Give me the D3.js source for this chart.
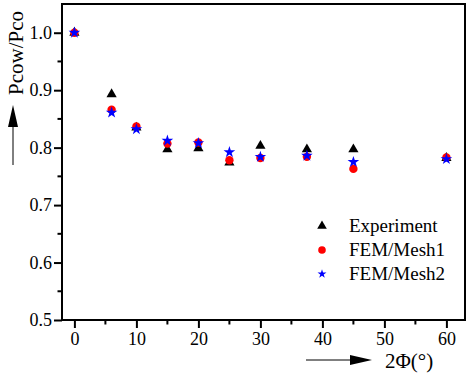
<!DOCTYPE html>
<html><head><meta charset="utf-8">
<script src="https://cdn.jsdelivr.net/npm/d3@7"></script>
<style>body{margin:0;background:#fff}svg{display:block}text{font-family:"Liberation Serif","Times New Roman",serif;fill:#000}</style>
</head><body>
<script>
const xValues = [0, 6, 10, 15, 20, 25, 30, 37.5, 45, 60];
const experiment = [1.0, 0.893, 0.835, 0.797, 0.799, 0.774, 0.803, 0.797, 0.797, 0.782];
const mesh1 = [1.0, 0.866, 0.837, 0.807, 0.809, 0.778, 0.782, 0.784, 0.763, 0.783];
const mesh2 = [1.0, 0.861, 0.832, 0.812, 0.808, 0.792, 0.784, 0.786, 0.775, 0.780];
const xTicks = [0, 10, 20, 30, 40, 50, 60];
const yTicks = [0.5, 0.6, 0.7, 0.8, 0.9, 1.0];
const seriesNames = ["Experiment", "FEM/Mesh1", "FEM/Mesh2"];

const W = 474, H = 374;
const L = 62, R = 465, T = 4, B = 320;
const svg = d3.select("body").append("svg").attr("width", W).attr("height", H);
const x = d3.scaleLinear().domain([-2, 63]).range([L, R]);
const y = d3.scaleLinear().domain([0.5, 1.05]).range([B, T]);

// minor ticks
const xMinor = d3.range(5, 61, 10);
const yMinor = d3.range(0.55, 1.05, 0.1);
svg.append("g").selectAll("line").data(xMinor).join("line")
  .attr("x1", d => x(d)).attr("x2", d => x(d)).attr("y1", B).attr("y2", B + 4.5)
  .attr("stroke", "#000").attr("stroke-width", 2);
svg.append("g").selectAll("line").data(yMinor).join("line")
  .attr("y1", d => y(d)).attr("y2", d => y(d)).attr("x1", L).attr("x2", L - 4.5)
  .attr("stroke", "#000").attr("stroke-width", 2);

const xAxis = svg.append("g").attr("transform", `translate(0,${B})`)
  .call(d3.axisBottom(x).tickValues(xTicks).tickSize(8).tickPadding(4).tickFormat(d3.format("d")));
const yAxis = svg.append("g").attr("transform", `translate(${L},0)`)
  .call(d3.axisLeft(y).tickValues(yTicks).tickSize(8).tickPadding(2).tickFormat(d3.format(".1f")));
[xAxis, yAxis].forEach(g => {
  g.attr("font-family", '"Liberation Serif", serif').attr("font-size", 18);
  g.select(".domain").remove();
  g.selectAll("line").attr("stroke-width", 2);
  g.selectAll("text").attr("font-family", '"Liberation Serif", serif').attr("font-size", 18).attr("fill", "#000");
});

// frame
svg.append("rect").attr("x", L).attr("y", T).attr("width", R - L).attr("height", B - T)
  .attr("fill", "none").attr("stroke", "#000").attr("stroke-width", 2);

// markers
const tri = d3.symbol().type(d3.symbolTriangle).size(45);
const star = d3.symbol().type(d3.symbolStar).size(42);
const gE = svg.append("g");
xValues.forEach((xv, i) => {
  gE.append("path").attr("d", tri).attr("transform", `translate(${x(xv)},${y(experiment[i])})`).attr("fill", "#000");
});
const gM1 = svg.append("g");
xValues.forEach((xv, i) => {
  gM1.append("circle").attr("cx", x(xv)).attr("cy", y(mesh1[i])).attr("r", 4.2).attr("fill", "#ff0000");
});
const gM2 = svg.append("g");
xValues.forEach((xv, i) => {
  gM2.append("path").attr("d", star).attr("transform", `translate(${x(xv)},${y(mesh2[i])})`).attr("fill", "#0000ff");
});

// legend
const lg = svg.append("g");
const ly = [226, 250, 274];
lg.append("path").attr("d", d3.symbol().type(d3.symbolTriangle).size(40)).attr("transform", `translate(322,${ly[0]})`).attr("fill", "#000");
lg.append("circle").attr("cx", 322).attr("cy", ly[1]).attr("r", 3.8).attr("fill", "#ff0000");
lg.append("path").attr("d", d3.symbol().type(d3.symbolStar).size(25)).attr("transform", `translate(322,${ly[2]})`).attr("fill", "#0000ff");
seriesNames.forEach((s, i) => {
  lg.append("text").attr("x", 349).attr("y", ly[i] + 6).style("font-size", "19px").text(s);
});

// y title
svg.append("text").attr("transform", "translate(23,53) rotate(-90)").attr("text-anchor", "middle")
  .style("font-size", "21px").text("Pcow/Pco");
svg.append("line").attr("x1", 13).attr("x2", 13).attr("y1", 165).attr("y2", 125).attr("stroke", "#000").attr("stroke-width", 1);
svg.append("path").attr("d", "M13,105 L8,127 L18,127 Z").attr("fill", "#000");
// x title
svg.append("line").attr("x1", 306).attr("x2", 352).attr("y1", 360).attr("y2", 360).attr("stroke", "#000").attr("stroke-width", 1);
svg.append("path").attr("d", "M372,360 L350,355 L350,365 Z").attr("fill", "#000");
svg.append("text").attr("x", 385).attr("y", 368).style("font-size", "21px").text("2Φ(°)");
</script>
</body></html>
